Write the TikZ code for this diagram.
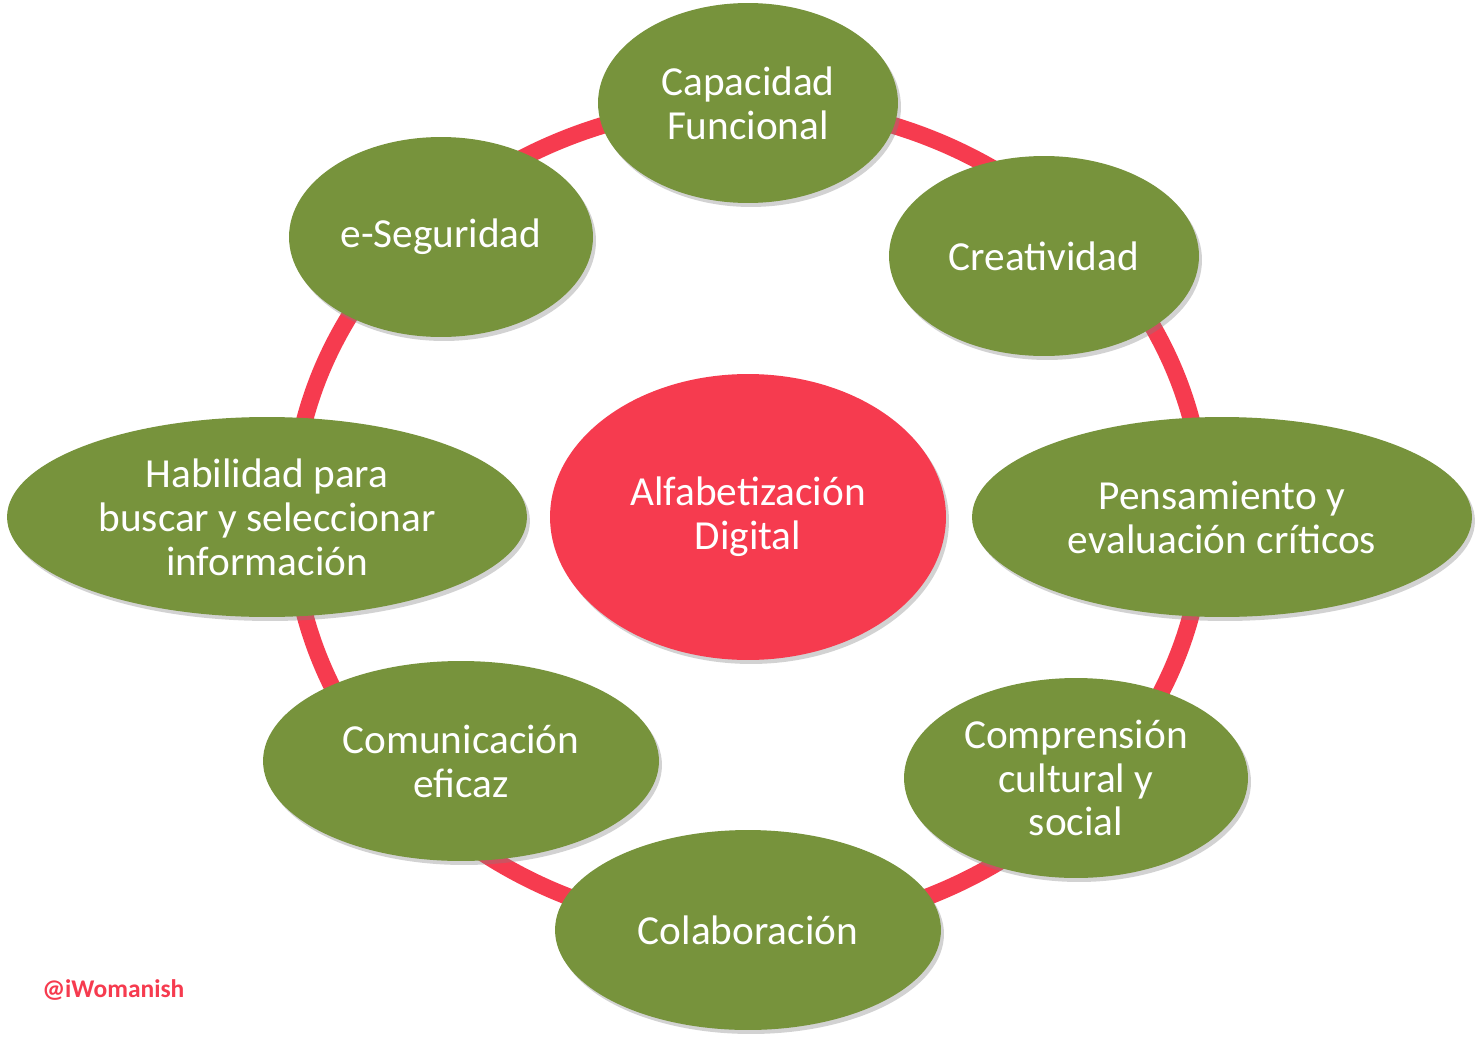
\documentclass[tikz,border=0pt]{standalone}
\usepackage{fontspec}
\setmainfont{Carlito}
\usetikzlibrary{shapes.geometric,shadows}
\definecolor{gr}{HTML}{77933C}
\definecolor{rd}{HTML}{F63B4F}
\tikzset{
 bub/.style={ellipse,fill=gr,text=white,align=center,font=\fontsize{23.5}{25}\selectfont,inner sep=0pt,
   drop shadow={shadow xshift=0.06cm,shadow yshift=-0.08cm,opacity=0.35}},
}
\begin{document}
\begin{tikzpicture}[x=0.02cm,y=-0.02cm]
\useasboundingbox (0,0) rectangle (1481,1041);
\fill[white] (0,0) rectangle (1481,1041);
\draw[rd,line width=0.34cm] (748,517) ellipse [x radius=456, y radius=413];
\node[bub,minimum width=6.0cm,minimum height=4cm] (cap) at (748,103) {Capacidad\\Funcional};
\node[bub,minimum width=6.2cm,minimum height=4cm] (cre) at (1044,256) {Creatividad};
\node[bub,minimum width=6.08cm,minimum height=4cm] (seg) at (441,237) {e-Seguridad};
\node[bub,minimum width=10.4cm,minimum height=4cm] (hab) at (267,517) {Habilidad para\\buscar y seleccionar\\información};
\node[bub,minimum width=10.0cm,minimum height=4cm] (pen) at (1222,517) {Pensamiento y\\evaluación críticos};
\node[bub,minimum width=7.92cm,minimum height=4cm] (com) at (461,761) {Comunicación\\eficaz};
\node[bub,minimum width=6.88cm,minimum height=4cm] (cmp) at (1076,778) {Comprensión\\cultural y\\social};
\node[bub,minimum width=7.72cm,minimum height=4cm] (col) at (748,930) {Colaboración};
\node[bub,fill=rd,minimum width=7.92cm,minimum height=5.72cm] (alf) at (748,517) {Alfabetización\\Digital};
\node[text=rd,font=\fontsize{14.5}{16}\selectfont\bfseries,anchor=west,inner sep=0pt] (tag) at (42,990) {@iWomanish};
\end{tikzpicture}
\end{document}
